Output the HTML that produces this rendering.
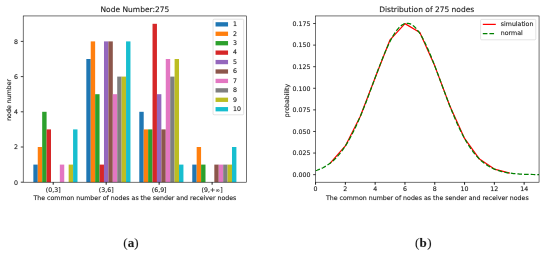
<!DOCTYPE html>
<html lang="en"><head><meta charset="utf-8"><title>Node distribution figure</title>
<style>html,body{margin:0;padding:0;background:#fff;}body{width:550px;height:253px;overflow:hidden;}svg{display:block;}text{font-family:"DejaVu Sans","Liberation Sans",sans-serif;fill:#1c1c1c;stroke:#000;stroke-opacity:0.22;stroke-width:0.45px;}.cap{font-family:"Liberation Serif","DejaVu Serif",serif;}</style></head><body>
<svg width="550" height="253" viewBox="0 0 550 253">
<g>
<rect width="550" height="253" fill="#fff"/>
<g shape-rendering="auto">
<rect x="33.35" y="164.60" width="4.41" height="17.60" fill="#1f77b4"/>
<rect x="37.76" y="147.00" width="4.41" height="35.20" fill="#ff7f0e"/>
<rect x="42.18" y="111.80" width="4.41" height="70.40" fill="#2ca02c"/>
<rect x="46.59" y="129.40" width="4.41" height="52.80" fill="#d62728"/>
<rect x="59.83" y="164.60" width="4.41" height="17.60" fill="#e377c2"/>
<rect x="68.66" y="164.60" width="4.41" height="17.60" fill="#bcbd22"/>
<rect x="73.08" y="129.40" width="4.41" height="52.80" fill="#17becf"/>
<rect x="86.32" y="59.00" width="4.41" height="123.20" fill="#1f77b4"/>
<rect x="90.73" y="41.40" width="4.41" height="140.80" fill="#ff7f0e"/>
<rect x="95.15" y="94.20" width="4.41" height="88.00" fill="#2ca02c"/>
<rect x="99.56" y="164.60" width="4.41" height="17.60" fill="#d62728"/>
<rect x="103.98" y="41.40" width="4.41" height="140.80" fill="#9467bd"/>
<rect x="108.39" y="41.40" width="4.41" height="140.80" fill="#8c564b"/>
<rect x="112.80" y="94.20" width="4.41" height="88.00" fill="#e377c2"/>
<rect x="117.22" y="76.60" width="4.41" height="105.60" fill="#7f7f7f"/>
<rect x="121.63" y="76.60" width="4.41" height="105.60" fill="#bcbd22"/>
<rect x="126.05" y="41.40" width="4.41" height="140.80" fill="#17becf"/>
<rect x="139.29" y="111.80" width="4.41" height="70.40" fill="#1f77b4"/>
<rect x="143.70" y="129.40" width="4.41" height="52.80" fill="#ff7f0e"/>
<rect x="148.12" y="129.40" width="4.41" height="52.80" fill="#2ca02c"/>
<rect x="152.53" y="23.80" width="4.41" height="158.40" fill="#d62728"/>
<rect x="156.95" y="94.20" width="4.41" height="88.00" fill="#9467bd"/>
<rect x="161.36" y="129.40" width="4.41" height="52.80" fill="#8c564b"/>
<rect x="165.77" y="59.00" width="4.41" height="123.20" fill="#e377c2"/>
<rect x="170.19" y="76.60" width="4.41" height="105.60" fill="#7f7f7f"/>
<rect x="174.60" y="59.00" width="4.41" height="123.20" fill="#bcbd22"/>
<rect x="179.02" y="164.60" width="4.41" height="17.60" fill="#17becf"/>
<rect x="192.26" y="164.60" width="4.41" height="17.60" fill="#1f77b4"/>
<rect x="196.67" y="147.00" width="4.41" height="35.20" fill="#ff7f0e"/>
<rect x="201.09" y="164.60" width="4.41" height="17.60" fill="#2ca02c"/>
<rect x="214.33" y="164.60" width="4.41" height="17.60" fill="#8c564b"/>
<rect x="218.74" y="164.60" width="4.41" height="17.60" fill="#e377c2"/>
<rect x="223.16" y="164.60" width="4.41" height="17.60" fill="#7f7f7f"/>
<rect x="227.57" y="164.60" width="4.41" height="17.60" fill="#bcbd22"/>
<rect x="231.99" y="147.00" width="4.41" height="35.20" fill="#17becf"/>
</g>
<g stroke="#000" stroke-width="0.55" fill="none">
<rect x="23.2" y="15.95" width="223.4" height="166.25"/>
<line x1="53.21" y1="182.2" x2="53.21" y2="184.7" stroke-width="0.9"/>
<line x1="106.18" y1="182.2" x2="106.18" y2="184.7" stroke-width="0.9"/>
<line x1="159.15" y1="182.2" x2="159.15" y2="184.7" stroke-width="0.9"/>
<line x1="212.12" y1="182.2" x2="212.12" y2="184.7" stroke-width="0.9"/>
<line x1="23.2" y1="182.20" x2="20.8" y2="182.20" stroke-width="0.75"/>
<line x1="23.2" y1="147.00" x2="20.8" y2="147.00" stroke-width="0.75"/>
<line x1="23.2" y1="111.80" x2="20.8" y2="111.80" stroke-width="0.75"/>
<line x1="23.2" y1="76.60" x2="20.8" y2="76.60" stroke-width="0.75"/>
<line x1="23.2" y1="41.40" x2="20.8" y2="41.40" stroke-width="0.75"/>
</g>
<g font-size="6.25">
<text x="53.21" y="191.8" text-anchor="middle">(0,3]</text>
<text x="106.18" y="191.8" text-anchor="middle">(3,6]</text>
<text x="159.15" y="191.8" text-anchor="middle">(6,9]</text>
<text x="212.12" y="191.8" text-anchor="middle">(9,+<tspan dx="0.3" font-size="5.3">∞</tspan><tspan dx="0.45">]</tspan></text>
<text x="18.10" y="184.50" text-anchor="end">0</text>
<text x="18.10" y="149.30" text-anchor="end">2</text>
<text x="18.10" y="114.10" text-anchor="end">4</text>
<text x="18.10" y="78.90" text-anchor="end">6</text>
<text x="18.10" y="43.70" text-anchor="end">8</text>
<text x="134.90" y="200.3" text-anchor="middle">The common number of nodes as the sender and receiver nodes</text>
<text transform="translate(10.6 99.87) rotate(-90)" text-anchor="middle">node number</text>
</g>
<text x="134.90" y="11.7" font-size="7.5" text-anchor="middle">Node Number:275</text>
<rect x="213.05" y="19.2" width="30.6" height="95.6" rx="1.1" fill="#fff" fill-opacity="0.8" stroke="#ccc" stroke-width="0.55"/>
<rect x="215.55" y="22.20" width="12.5" height="4.3" fill="#1f77b4"/>
<text x="233.1" y="26.15" font-size="6.25">1</text>
<rect x="215.55" y="31.63" width="12.5" height="4.3" fill="#ff7f0e"/>
<text x="233.1" y="35.58" font-size="6.25">2</text>
<rect x="215.55" y="41.06" width="12.5" height="4.3" fill="#2ca02c"/>
<text x="233.1" y="45.01" font-size="6.25">3</text>
<rect x="215.55" y="50.49" width="12.5" height="4.3" fill="#d62728"/>
<text x="233.1" y="54.44" font-size="6.25">4</text>
<rect x="215.55" y="59.92" width="12.5" height="4.3" fill="#9467bd"/>
<text x="233.1" y="63.87" font-size="6.25">5</text>
<rect x="215.55" y="69.35" width="12.5" height="4.3" fill="#8c564b"/>
<text x="233.1" y="73.30" font-size="6.25">6</text>
<rect x="215.55" y="78.78" width="12.5" height="4.3" fill="#e377c2"/>
<text x="233.1" y="82.73" font-size="6.25">7</text>
<rect x="215.55" y="88.21" width="12.5" height="4.3" fill="#7f7f7f"/>
<text x="233.1" y="92.16" font-size="6.25">8</text>
<rect x="215.55" y="97.64" width="12.5" height="4.3" fill="#bcbd22"/>
<text x="233.1" y="101.59" font-size="6.25">9</text>
<rect x="215.55" y="107.07" width="12.5" height="4.3" fill="#17becf"/>
<text x="233.1" y="111.02" font-size="6.25">10</text>
<clipPath id="c2"><rect x="315.55" y="15.95" width="223.49999999999994" height="166.25"/></clipPath>
<g clip-path="url(#c2)" fill="none" stroke-linejoin="round">
<polyline points="330.45,162.95 345.35,145.94 360.25,116.57 375.15,77.76 390.05,39.84 404.95,23.61 419.85,32.42 434.75,65.86 449.65,105.54 464.55,138.46 479.45,159.03 494.35,169.09 509.25,173.02" stroke="#ff0000" stroke-width="1.25" stroke-linecap="square"/>
<polyline points="315.55,170.72 317.04,170.23 318.53,169.69 320.02,169.09 321.51,168.43 323.00,167.71 324.49,166.91 325.98,166.05 327.47,165.10 328.96,164.07 330.45,162.95 331.94,161.74 333.43,160.44 334.92,159.03 336.41,157.51 337.90,155.88 339.39,154.14 340.88,152.27 342.37,150.29 343.86,148.18 345.35,145.94 346.84,143.58 348.33,141.08 349.82,138.46 351.31,135.70 352.80,132.82 354.29,129.81 355.78,126.67 357.27,123.42 358.76,120.05 360.25,116.57 361.74,112.98 363.23,109.31 364.72,105.54 366.21,101.70 367.70,97.80 369.19,93.84 370.68,89.84 372.17,85.82 373.66,81.79 375.15,77.76 376.64,73.75 378.13,69.78 379.62,65.86 381.11,62.01 382.60,58.25 384.09,54.60 385.58,51.07 387.07,47.68 388.56,44.46 390.05,41.40 391.54,38.54 393.03,35.89 394.52,33.46 396.01,31.26 397.50,29.31 398.99,27.61 400.48,26.19 401.97,25.04 403.46,24.17 404.95,23.58 406.44,23.29 407.93,23.29 409.42,23.58 410.91,24.17 412.40,25.04 413.89,26.19 415.38,27.61 416.87,29.31 418.36,31.26 419.85,33.46 421.34,35.89 422.83,38.54 424.32,41.40 425.81,44.46 427.30,47.68 428.79,51.07 430.28,54.60 431.77,58.25 433.26,62.01 434.75,65.86 436.24,69.78 437.73,73.75 439.22,77.76 440.71,81.79 442.20,85.82 443.69,89.84 445.18,93.84 446.67,97.80 448.16,101.70 449.65,105.54 451.14,109.31 452.63,112.98 454.12,116.57 455.61,120.05 457.10,123.42 458.59,126.67 460.08,129.81 461.57,132.82 463.06,135.70 464.55,138.46 466.04,141.08 467.53,143.58 469.02,145.94 470.51,148.18 472.00,150.29 473.49,152.27 474.98,154.14 476.47,155.88 477.96,157.51 479.45,159.03 480.94,160.44 482.43,161.74 483.92,162.95 485.41,164.07 486.90,165.10 488.39,166.05 489.88,166.91 491.37,167.71 492.86,168.43 494.35,169.09 495.84,169.69 497.33,170.23 498.82,170.72 500.31,171.16 501.80,171.56 503.29,171.92 504.78,172.24 506.27,172.53 507.76,172.79 509.25,173.02 510.74,173.22 512.23,173.40 513.72,173.56 515.21,173.70 516.70,173.83 518.19,173.94 519.68,174.03 521.17,174.12 522.66,174.19 524.15,174.26 525.64,174.31 527.13,174.36 528.62,174.40 530.11,174.44 531.60,174.47 533.09,174.50 534.58,174.52 536.07,174.54 537.56,174.56 539.05,174.57" stroke="#008000" stroke-width="1.25" stroke-dasharray="4.63 2.0"/>
</g>
<g stroke="#000" stroke-width="0.55" fill="none">
<rect x="315.55" y="15.95" width="223.49999999999994" height="166.25"/>
<line x1="315.55" y1="182.2" x2="315.55" y2="184.7" stroke-width="0.9"/>
<line x1="345.35" y1="182.2" x2="345.35" y2="184.7" stroke-width="0.9"/>
<line x1="375.15" y1="182.2" x2="375.15" y2="184.7" stroke-width="0.9"/>
<line x1="404.95" y1="182.2" x2="404.95" y2="184.7" stroke-width="0.9"/>
<line x1="434.75" y1="182.2" x2="434.75" y2="184.7" stroke-width="0.9"/>
<line x1="464.55" y1="182.2" x2="464.55" y2="184.7" stroke-width="0.9"/>
<line x1="494.35" y1="182.2" x2="494.35" y2="184.7" stroke-width="0.9"/>
<line x1="524.15" y1="182.2" x2="524.15" y2="184.7" stroke-width="0.9"/>
<line x1="315.55" y1="174.65" x2="313.15000000000003" y2="174.65" stroke-width="0.75"/>
<line x1="315.55" y1="153.06" x2="313.15000000000003" y2="153.06" stroke-width="0.75"/>
<line x1="315.55" y1="131.47" x2="313.15000000000003" y2="131.47" stroke-width="0.75"/>
<line x1="315.55" y1="109.88" x2="313.15000000000003" y2="109.88" stroke-width="0.75"/>
<line x1="315.55" y1="88.29" x2="313.15000000000003" y2="88.29" stroke-width="0.75"/>
<line x1="315.55" y1="66.70" x2="313.15000000000003" y2="66.70" stroke-width="0.75"/>
<line x1="315.55" y1="45.11" x2="313.15000000000003" y2="45.11" stroke-width="0.75"/>
<line x1="315.55" y1="23.52" x2="313.15000000000003" y2="23.52" stroke-width="0.75"/>
</g>
<g font-size="6.25">
<text x="315.55" y="191.35" text-anchor="middle">0</text>
<text x="345.35" y="191.35" text-anchor="middle">2</text>
<text x="375.15" y="191.35" text-anchor="middle">4</text>
<text x="404.95" y="191.35" text-anchor="middle">6</text>
<text x="434.75" y="191.35" text-anchor="middle">8</text>
<text x="464.55" y="191.35" text-anchor="middle">10</text>
<text x="494.35" y="191.35" text-anchor="middle">12</text>
<text x="524.15" y="191.35" text-anchor="middle">14</text>
<text x="310.45" y="176.95" text-anchor="end">0.000</text>
<text x="310.45" y="155.36" text-anchor="end">0.025</text>
<text x="310.45" y="133.77" text-anchor="end">0.050</text>
<text x="310.45" y="112.18" text-anchor="end">0.075</text>
<text x="310.45" y="90.59" text-anchor="end">0.100</text>
<text x="310.45" y="69.00" text-anchor="end">0.125</text>
<text x="310.45" y="47.41" text-anchor="end">0.150</text>
<text x="310.45" y="25.82" text-anchor="end">0.175</text>
<text x="427.30" y="200.3" text-anchor="middle">The common number of nodes as the sender and receiver nodes</text>
<text transform="translate(288.9 100.57) rotate(-90)" text-anchor="middle">probability</text>
</g>
<text x="426.70" y="11.7" font-size="7.5" text-anchor="middle">Distribution of 275 nodes</text>
<rect x="480.6" y="19.4" width="55.2" height="20.4" rx="1.1" fill="#fff" fill-opacity="0.8" stroke="#ccc" stroke-width="0.55"/>
<line x1="482.8" y1="24.4" x2="495.8" y2="24.4" stroke="#ff0000" stroke-width="1.25"/>
<line x1="482.8" y1="33.7" x2="495.8" y2="33.7" stroke="#008000" stroke-width="1.25" stroke-dasharray="4.63 2.0"/>
<text x="500.8" y="26.1" font-size="6.25">simulation</text>
<text x="500.8" y="35.4" font-size="6.25">normal</text>
<text class="cap" letter-spacing="0.1" x="131.0" y="246.6" font-size="13.0" text-anchor="middle">(<tspan font-weight="bold">a</tspan>)</text>
<text class="cap" letter-spacing="0.35" x="423.4" y="246.6" font-size="13.0" text-anchor="middle">(<tspan font-weight="bold">b</tspan>)</text>
</g></svg></body></html>
